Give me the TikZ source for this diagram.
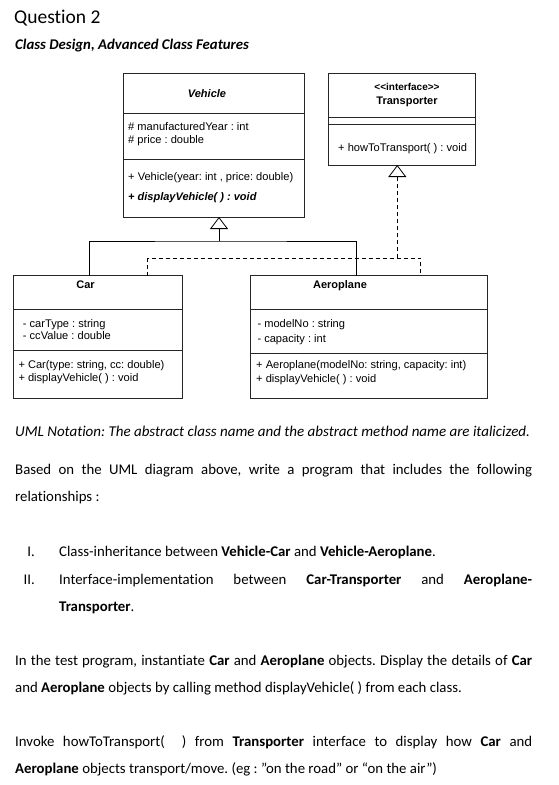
\documentclass[tikz,border=0pt]{standalone}
\usepackage{fontspec}
\setmainfont{Carlito}[Ligatures={TeX,NoCommon}]
\newfontfamily\arialf{Liberation Sans}
\usetikzlibrary{arrows.meta}
\frenchspacing
\begin{document}
\begin{tikzpicture}[x=1pt,y=-1pt,
  classbox/.style={draw=black!85, line width=0.9pt, anchor=north west, inner sep=0pt, outer sep=0pt},
  sepline/.style={draw=black!85, line width=0.9pt},
  uml/.style={font=\arialf\fontsize{11.1}{13}\selectfont, inner sep=0pt, anchor=base west},
  umltitle/.style={font=\arialf\bfseries\fontsize{11}{13}\selectfont, inner sep=0pt, anchor=base},
  conn/.style={draw=black, line width=0.8pt},
  dconn/.style={conn, dash pattern=on 4pt off 3pt},
  inh/.style={-{Triangle[open,length=12pt,width=18pt,line width=0.8pt]}},
  bodyline/.style={font=\fontsize{14.8}{27.5}\selectfont, inner sep=0pt, anchor=base west},
  body/.style={bodyline, align=justify},
]
\fill[white] (0,0) rectangle (558,785);
\useasboundingbox (0,0) rectangle (558,785);

% headings
\node[font=\fontsize{19.5}{22}\selectfont, anchor=base west, inner sep=0pt] (q) at (14,23) {Question 2};
\node[font=\bfseries\itshape\fontsize{14.8}{17}\selectfont, anchor=base west, inner sep=0pt] (sub) at (15,49) {Class Design, Advanced Class Features};

% class boxes
\node[classbox, minimum width=180.5pt, minimum height=144pt] (vehicle) at (123.5,73) {};
\node[classbox, minimum width=147pt, minimum height=92pt] (transporter) at (328,73) {};
\node[classbox, minimum width=169pt, minimum height=122.5pt] (car) at (13.5,275.5) {};
\node[classbox, minimum width=236.5pt, minimum height=122.5pt] (aero) at (250.5,275.5) {};

% separators
\draw[sepline] (123.5,113) -- (304,113);
\draw[sepline] (123.5,159) -- (304,159);
\draw[sepline] (328,117) -- (475,117);
\draw[sepline] (328,124) -- (475,124);
\draw[sepline] (13.5,309) -- (182.5,309);
\draw[sepline] (13.5,350) -- (182.5,350);
\draw[sepline] (250.5,309) -- (487,309);
\draw[sepline] (250.5,353) -- (487,353);

% Vehicle texts
\node[umltitle, font=\arialf\bfseries\itshape\fontsize{11}{13}\selectfont] (vt) at (207,97) {Vehicle};
\node[uml] (va1) at (128,130) {\# manufacturedYear : int};
\node[uml] (va2) at (128,143.5) {\# price : double};
\node[uml] (vm1) at (128,180) {+ Vehicle(year: int , price: double)};
\node[uml, font=\arialf\bfseries\itshape\fontsize{11}{13}\selectfont] (vm2) at (128,200) {+ displayVehicle( ) : void};

% Transporter texts
\node[umltitle, font=\arialf\bfseries\fontsize{10}{12}\selectfont] (ti) at (407,90) {<<interface>>};
\node[umltitle] (tt) at (407,104) {Transporter};
\node[uml] (tm1) at (338,151) {+ howToTransport( ) : void};

% Car texts
\node[umltitle] (ct) at (85.5,288.5) {Car};
\node[uml] (ca1) at (22.7,327) {- carType : string};
\node[uml] (ca2) at (22.7,339.5) {- ccValue : double};
\node[uml] (cm1) at (18.3,368.5) {+ Car(type: string, cc: double)};
\node[uml] (cm2) at (18.3,381) {+ displayVehicle( ) : void};

% Aeroplane texts
\node[umltitle] (at) at (340,288.5) {Aeroplane};
\node[uml] (aa1) at (257.3,327) {- modelNo : string};
\node[uml] (aa2) at (257.3,342) {- capacity : int};
\node[uml] (am1) at (256,368.5) {+ Aeroplane(modelNo: string, capacity: int)};
\node[uml] (am2) at (256,382) {+ displayVehicle( ) : void};

% connectors
\coordinate (vjoin) at (219,241);
\coordinate (rjoin) at (397.3,258.3);
\draw[conn] ([xshift=-8.7pt]car.north) |- (vjoin) -| ([xshift=-12.75pt]aero.north);
\draw[conn, inh] (vjoin) -- ([xshift=5.25pt]vehicle.south);
\draw[dconn] ([xshift=49.7pt]car.north) |- (rjoin) -| ([xshift=51.95pt]aero.north);
\draw[dconn, inh] (rjoin) -- ([xshift=-4.2pt]transporter.south);

% body text
\node[bodyline, font=\itshape\fontsize{15}{27.5}\selectfont] (uml) at (15,436.5) {UML Notation: The abstract class name and the abstract method name are italicized.};
\node[body, text width=517pt] (based) at (15,474) {Based on the UML diagram above, write a program that includes the following\linebreak relationships :};
\node[bodyline, anchor=base east] (n1) at (35,556) {I.};
\node[body, text width=473pt] (i1) at (59,556) {Class-inheritance between \textbf{Vehicle-Car} and \textbf{Vehicle-Aeroplane}.};
\node[bodyline, anchor=base east] (n2) at (35,584) {II.};
\node[body, text width=473pt] (i2) at (59,584) {Interface-implementation between \textbf{Car-Transporter} and \textbf{Aeroplane-}\linebreak \textbf{Transporter}.};
\node[body, text width=517pt] (test) at (15,665) {In the test program, instantiate \textbf{Car} and \textbf{Aeroplane} objects. Display the details of \textbf{Car}\linebreak and \textbf{Aeroplane} objects by calling method displayVehicle( ) from each class.};
\node[body, text width=517pt] (inv) at (15,746) {Invoke howToTransport(~~) from \textbf{Transporter} interface to display how \textbf{Car} and\linebreak \textbf{Aeroplane} objects transport/move. (eg : ”on the road” or “on the air”)};
\end{tikzpicture}
\end{document}
